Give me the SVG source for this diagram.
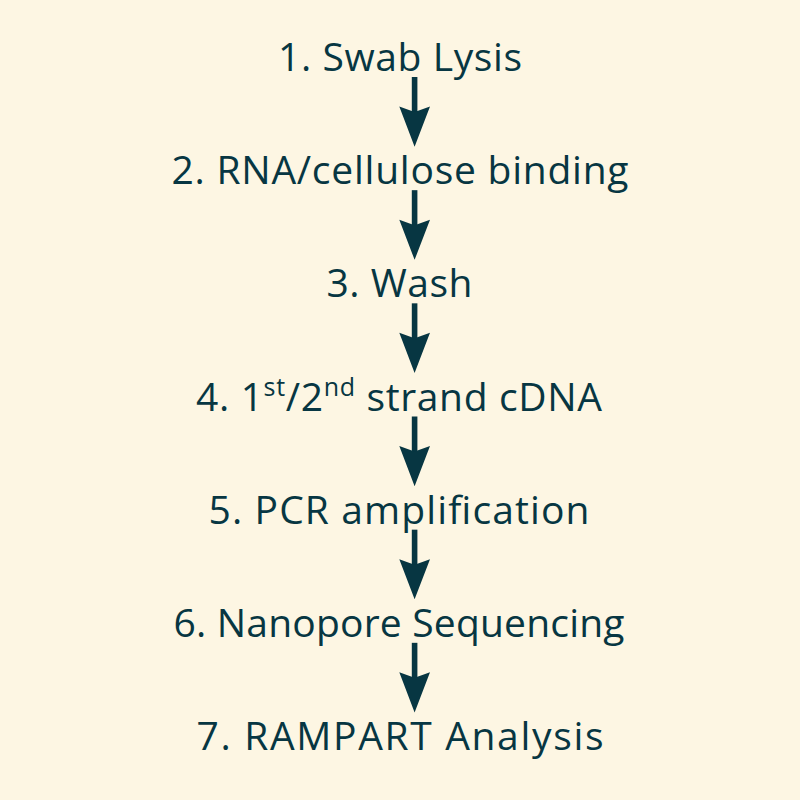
<svg xmlns="http://www.w3.org/2000/svg" width="800" height="800" viewBox="0 0 800 800">
<style>
.lbl{font-family:"Open Sans","Noto Sans",sans-serif;font-size:39px;fill:#073642;text-anchor:middle}
.sup{font-size:25px}
.arr{fill:#073642}
</style>
<defs>
<g id="arrow">
<rect x="411.8" y="77" width="5.6" height="36"/>
<path d="M414.6 146.7 L399.3 106.5 Q407.5 109.5 414.6 112 Q421.7 109.5 430 106.5 Z"/>
</g>
</defs>
<rect width="800" height="800" fill="#fdf6e3"/>
<g id="connectors" class="arr">
<use href="#arrow"/>
<use href="#arrow" y="113.17"/>
<use href="#arrow" y="226.33"/>
<use href="#arrow" y="339.5"/>
<use href="#arrow" y="452.67"/>
<use href="#arrow" y="565.83"/>
</g>
<g id="step1"><text class="lbl" x="400" y="71" textLength="244" lengthAdjust="spacing">1. Swab Lysis</text></g>
<g id="step2"><text class="lbl" x="400" y="184.2" textLength="457" lengthAdjust="spacing">2. RNA/cellulose binding</text></g>
<g id="step3"><text class="lbl" x="399.5" y="297.3" textLength="146" lengthAdjust="spacing">3. Wash</text></g>
<g id="step4"><text class="lbl" x="399" y="410.5" textLength="406" lengthAdjust="spacing">4. 1<tspan class="sup" dy="-15">st</tspan><tspan dy="15">/2</tspan><tspan class="sup" dy="-15">nd</tspan><tspan dy="15"> strand cDNA</tspan></text></g>
<g id="step5"><text class="lbl" x="399" y="523.7" textLength="381" lengthAdjust="spacing">5. PCR amplification</text></g>
<g id="step6"><text class="lbl" x="399" y="636.8" textLength="451" lengthAdjust="spacing">6. Nanopore Sequencing</text></g>
<g id="step7"><text class="lbl" x="400" y="750" textLength="407" lengthAdjust="spacing">7. RAMPART Analysis</text></g>
</svg>
